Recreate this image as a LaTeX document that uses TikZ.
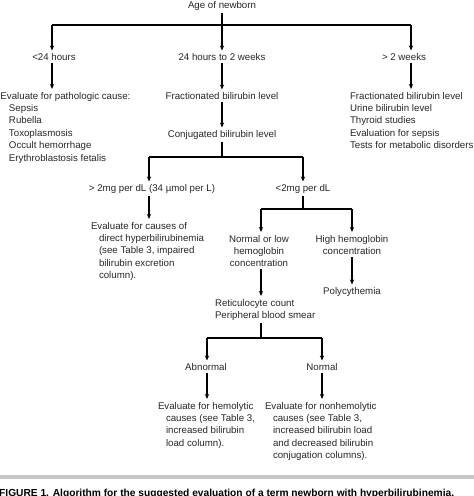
\documentclass[tikz,border=0pt]{standalone}
\usepackage{fontspec}
\setmainfont{Liberation Sans}
\usetikzlibrary{arrows.meta}
\begin{document}
\begin{tikzpicture}[x=1pt,y=-1pt,
  txt/.style={inner sep=0pt,outer sep=0pt,text=black!85,font=\fontsize{9.7}{12.4}\selectfont},
  ln/.style={line width=1.1pt,draw=black},
  arr/.style={ln,-{Stealth[length=5pt,width=4.2pt]},shorten <=2.5pt,shorten >=3pt},
  seg/.style={ln,shorten <=2.5pt}]
\useasboundingbox (0,0) rectangle (474,496);
% nodes
\node[txt,anchor=base] (age) at (222,8.5) {Age of newborn};
\node[txt,anchor=base] (lt24) at (54,60.5) {<24 hours};
\node[txt,anchor=base] (mid) at (222,60.5) {24 hours to 2 weeks};
\node[txt,anchor=base] (gt2) at (404,60.5) {> 2 weeks};
\node[txt,anchor=north west,align=left] (eval1) at (0.5,92) {Evaluate for pathologic cause:\\\hspace*{8.5pt}Sepsis\\\hspace*{8.5pt}Rubella\\\hspace*{8.5pt}Toxoplasmosis\\\hspace*{8.5pt}Occult hemorrhage\\\hspace*{8.5pt}Erythroblastosis fetalis};
\node[txt,anchor=base] (frac) at (222,99.5) {Fractionated bilirubin level};
\node[txt,anchor=north west,align=left] (rlist) at (350,92) {Fractionated bilirubin level\\Urine bilirubin level\\Thyroid studies\\Evaluation for sepsis\\Tests for metabolic disorders};
\node[txt,anchor=base] (conj) at (222,137.5) {Conjugated bilirubin level};
\node[txt,anchor=base] (gt2mg) at (152,191.5) {> 2mg per dL (34 µmol per L)};
\node[txt,anchor=base] (lt2mg) at (303,191.5) {<2mg per dL};
\node[txt,anchor=north west,align=left] (evalc) at (91,222) {Evaluate for causes of\\\hspace*{8pt}direct hyperbilirubinemia\\\hspace*{8pt}(see Table 3, impaired\\\hspace*{8pt}bilirubin excretion\\\hspace*{8pt}column).};
\node[txt,anchor=north,align=center] (normal) at (259,235) {Normal or low\\hemoglobin\\concentration};
\node[txt,anchor=north,align=center] (high) at (352,235) {High hemoglobin\\concentration};
\node[txt,anchor=base] (poly) at (352,294.5) {Polycythemia};
\node[txt,anchor=north west,align=left] (retic) at (215,299) {Reticulocyte count\\Peripheral blood smear};
\node[txt,anchor=base] (abn) at (206,370.5) {Abnormal};
\node[txt,anchor=base] (nor) at (322,370.5) {Normal};
\node[txt,anchor=north west,align=left] (hemo) at (158,402) {Evaluate for hemolytic\\\hspace*{8pt}causes (see Table 3,\\\hspace*{8pt}increased bilirubin\\\hspace*{8pt}load column).};
\node[txt,anchor=north west,align=left] (nonhemo) at (265,402) {Evaluate for nonhemolytic\\\hspace*{8pt}causes (see Table 3,\\\hspace*{8pt}increased bilirubin load\\\hspace*{8pt}and decreased bilirubin\\\hspace*{8pt}conjugation columns).};
% junctions
\coordinate (jA) at (222,25);
\coordinate (jL) at (52,25);
\coordinate (jR) at (411,25);
\coordinate (jC) at (222,157);
\coordinate (jC1) at (149,157);
\coordinate (jC2) at (303,157);
\coordinate (jD) at (303,209);
\coordinate (jD1) at (261,209);
\coordinate (jD2) at (352,209);
\coordinate (jE) at (261,338);
\coordinate (jE1) at (207,338);
\coordinate (jE2) at (322,338);
% connectors
\draw[seg] (age.south) -- (jA);
\draw[ln] (jL) -- (jR);
\draw[arr,shorten <=0pt] (jA) -- (mid.north);
\draw[arr,shorten <=0pt] (jL) -- (jL |- lt24.north);
\draw[arr,shorten <=0pt] (jR) -- (jR |- gt2.north);
\draw[arr] (jL |- lt24.south) -- (jL |- eval1.north);
\draw[arr] (mid.south) -- (frac.north);
\draw[arr] (jR |- gt2.south) -- (jR |- rlist.north);
\draw[arr] (frac.south) -- (conj.north);
\draw[seg] (conj.south) -- (jC);
\draw[ln] (jC1) -- (jC2);
\draw[arr,shorten <=0pt] (jC1) -- (jC1 |- gt2mg.north);
\draw[arr,shorten <=0pt] (jC2) -- (jC2 |- lt2mg.north);
\draw[arr] (jC1 |- gt2mg.south) -- (jC1 |- evalc.north);
\draw[seg] (jC2 |- lt2mg.south) -- (jD);
\draw[ln] (jD1) -- (jD2);
\draw[arr,shorten <=0pt] (jD1) -- (jD1 |- normal.north);
\draw[arr,shorten <=0pt] (jD2) -- (jD2 |- high.north);
\draw[arr] (jD1 |- normal.south) -- (jD1 |- retic.north);
\draw[arr] (jD2 |- high.south) -- (jD2 |- poly.north);
\draw[seg] (jD1 |- retic.south) -- (jE);
\draw[ln] (jE1) -- (jE2);
\draw[arr,shorten <=0pt] (jE1) -- (jE1 |- abn.north);
\draw[arr,shorten <=0pt] (jE2) -- (jE2 |- nor.north);
\draw[arr] (jE1 |- abn.south) -- (jE1 |- hemo.north);
\draw[arr] (jE2 |- nor.south) -- (jE2 |- nonhemo.north);
% caption band
\fill[black!22] (0,475) rectangle (474,479);
\node[inner sep=0pt,anchor=base west,font=\fontsize{10.2}{12}\selectfont\bfseries] (cap) at (-1,496.5) {FIGURE 1. Algorithm for the suggested evaluation of a term newborn with hyperbilirubinemia.};
\end{tikzpicture}
\end{document}
